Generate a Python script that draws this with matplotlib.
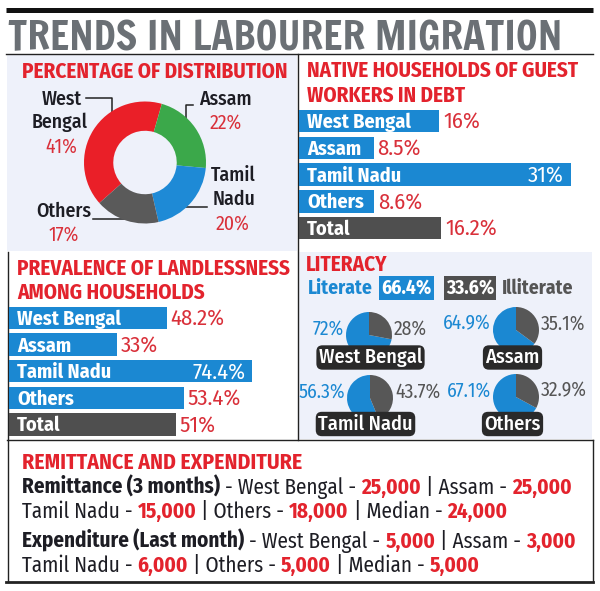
import matplotlib
matplotlib.use('Agg')
import matplotlib.pyplot as plt
from matplotlib import font_manager

# ---------------- data ----------------
dist_labels = ['West Bengal', 'Assam', 'Tamil Nadu', 'Others']
dist_values = [41, 22, 20, 17]

debt_labels = ['West Bengal', 'Assam', 'Tamil Nadu', 'Others', 'Total']
debt_values = [16, 8.5, 31, 8.6, 16.2]

land_labels = ['West Bengal', 'Assam', 'Tamil Nadu', 'Others', 'Total']
land_values = [48.2, 33, 74.4, 53.4, 51]

lit_total = [66.4, 33.6]
lit_states = ['West Bengal', 'Assam', 'Tamil Nadu', 'Others']
lit_literate = [72, 64.9, 56.3, 67.1]
lit_illiterate = [28, 35.1, 43.7, 32.9]

remit_places = ['West Bengal', 'Assam', 'Tamil Nadu', 'Others', 'Median']
remit_values = ['25,000', '25,000', '15,000', '18,000', '24,000']
exp_values = ['5,000', '3,000', '6,000', '5,000', '5,000']

# ---------------- style ----------------
names = {f.name for f in font_manager.fontManager.ttflist}


def pick(*cands):
    for c in cands:
        if c in names:
            return c
    return 'DejaVu Sans'


BODY = pick('Fira Sans Condensed', 'Roboto Condensed', 'Encode Sans Condensed')
TITLEF = pick('Francois One', 'Fjalla One', 'Oswald', 'Archivo Narrow')
plt.rcParams['font.family'] = [BODY, 'DejaVu Sans']

RED = '#e3232d'
RED2 = '#d9303a'
BLUE = '#1b88d2'
GRAY = '#4f4f4f'
DARK = '#1d1d24'
BG = '#eef1fa'
TITLE_GRAY = '#6b7075'

W, H, DPI = 600, 591, 100
fig = plt.figure(figsize=(W / DPI, H / DPI), dpi=DPI)
fig.patch.set_facecolor('white')
ax0 = fig.add_axes([0, 0, 1, 1])
ax0.set_xlim(0, W)
ax0.set_ylim(H, 0)
ax0.axis('off')
R = fig.canvas.get_renderer()


def px_axes(x0, y0, x1, y1):
    a = fig.add_axes([x0 / W, 1 - y1 / H, (x1 - x0) / W, (y1 - y0) / H])
    a.patch.set_alpha(0)
    return a


def width_of(s, size, **kw):
    t = ax0.text(0, 0, 'x' + s + 'x', fontsize=size, **kw)
    a = t.get_window_extent(R).width
    t.remove()
    t = ax0.text(0, 0, 'xx', fontsize=size, **kw)
    b = t.get_window_extent(R).width
    t.remove()
    return a - b


def fit_size(s, width, **kw):
    return 10 * width / width_of(s, 10, **kw)


def fit_text(x, y, s, width, ha='left', **kw):
    size = fit_size(s, width, **kw)
    return ax0.text(x, y, s, fontsize=size, ha=ha, va='baseline', **kw)


def seg_line(x, y, segs, target, size=None):
    if size is None:
        tot = sum(width_of(s, 10, **kw) for s, kw in segs)
        size = 10 * target / tot
    cx = x
    for s, kw in segs:
        lead = len(s) - len(s.lstrip(' '))
        off = width_of(' ' * lead, size, **kw) if lead else 0
        ax0.text(cx + off, y, s.strip(), fontsize=size, va='baseline', **kw)
        cx += width_of(s, size, **kw)
    return size


# ---------------- frame ----------------
ax0.add_patch(plt.Rectangle((7, 54), 290, 197, fc=BG, ec='none', zorder=0))
ax0.add_patch(plt.Rectangle((298, 252), 294, 187, fc=BG, ec='none', zorder=0))
ax0.plot([6, 593], [9.5, 9.5], color='#111111', lw=3.6, solid_capstyle='butt')
ax0.plot([6, 593], [53.5, 53.5], color='#222222', lw=1.0)
ax0.plot([297.5, 297.5], [53.5, 440], color='#222222', lw=1.0)
ax0.plot([7.5, 7.5], [252, 582], color='#222222', lw=1.0)
ax0.plot([7, 593], [440, 440], color='#222222', lw=1.0)
ax0.plot([592.5, 592.5], [440, 582], color='#222222', lw=1.0)
ax0.plot([6, 593], [582, 582], color='#222222', lw=2.0)

fit_text(8, 50, 'TRENDS IN LABOURER MIGRATION', 557, color=TITLE_GRAY, family=[TITLEF, 'DejaVu Sans'])

# ---------------- donut ----------------
fit_text(22, 78, 'PERCENTAGE OF DISTRIBUTION', 265, color=RED, fontweight='bold')
cx, cy, r = 145, 162.5, 61
axd = px_axes(cx - r, cy - r, cx + r, cy + r)
start = 74 + 360 * dist_values[0] / 100
axd.pie(dist_values, colors=['#ea1f28', '#3ba84a', '#1e8ad6', '#5a5a5a'],
        startangle=start, counterclock=False,
        wedgeprops=dict(width=0.48, edgecolor='none'))
axd.set_xlim(-1, 1)
axd.set_ylim(-1, 1)
axd.axis('off')

lsz = fit_size('Bengal', 56, fontweight='medium')
kwl = dict(fontsize=lsz, va='baseline', color=DARK, fontweight='medium')
kwp = dict(fontsize=lsz, va='baseline', color=RED2)
ax0.text(62, 105, 'West', ha='center', **kwl)
ax0.text(60, 128, 'Bengal', ha='center', **kwl)
ax0.text(61, 153, f'{dist_values[0]}%', ha='center', **kwp)
ax0.text(225, 105, 'Assam', ha='center', **kwl)
ax0.text(226, 129, f'{dist_values[1]}%', ha='center', **kwp)
ax0.text(233, 181, 'Tamil', ha='center', **kwl)
ax0.text(234, 205, 'Nadu', ha='center', **kwl)
ax0.text(233, 230, f'{dist_values[2]}%', ha='center', **kwp)
ax0.text(64, 217, 'Others', ha='center', **kwl)
ax0.text(64, 241, f'{dist_values[3]}%', ha='center', **kwp)
lk = dict(color='#222222', lw=1.1, zorder=5)
ax0.plot([86, 112, 112], [98, 98, 127], **lk)
ax0.plot([193, 186, 186], [105, 105, 142], **lk)
ax0.plot([207, 173], [207, 207], **lk)
ax0.plot([93, 153], [219, 219], **lk)

# ---------------- bar panels ----------------
lab_size = fit_size('West Bengal', 104, fontweight='bold')
val_size = fit_size('16.2%', 52)


def bar_panel(x0, y_first, spacing, scale, labels, values, inside_idx, bar_h):
    n = len(values)
    width_px = 290
    ax = px_axes(x0, y_first - spacing / 2, x0 + width_px, y_first + spacing * (n - 0.5))
    ax.set_xlim(0, width_px / scale)
    ax.set_ylim(n - 0.5, -0.5)
    ax.axis('off')
    cols = [BLUE] * (n - 1) + [GRAY]
    ax.barh(range(n), values, height=bar_h / spacing, color=cols, edgecolor='none')
    for i, (lab, v) in enumerate(zip(labels, values)):
        ax.annotate(lab, xy=(0, i), xytext=(8, -7), textcoords='offset pixels',
                    ha='left', va='baseline', color='white', fontweight='bold',
                    fontsize=lab_size)
        txt = f'{v:g}%'
        if i == inside_idx:
            ax.annotate(txt, xy=(v, i), xytext=(-7, -7), textcoords='offset pixels',
                        ha='right', va='baseline', color='white', fontsize=val_size)
        else:
            ax.annotate(txt, xy=(v, i), xytext=(4, -7), textcoords='offset pixels',
                        ha='left', va='baseline', color=RED2, fontsize=val_size)
    return ax


hsz = fit_size('NATIVE HOUSEHOLDS OF GUEST', 272, fontweight='bold')
ax0.text(307, 77, 'NATIVE HOUSEHOLDS OF GUEST', fontsize=hsz, color=RED, fontweight='bold', va='baseline')
ax0.text(307, 102, 'WORKERS IN DEBT', fontsize=hsz, color=RED, fontweight='bold', va='baseline')
bar_panel(299, 121, 26.75, 8.77, debt_labels, debt_values, 2, 22.5)

ax0.text(17, 275, 'PREVALENCE OF LANDLESSNESS', fontsize=hsz, color=RED, fontweight='bold', va='baseline')
ax0.text(17, 299, 'AMONG HOUSEHOLDS', fontsize=hsz, color=RED, fontweight='bold', va='baseline')
bar_panel(9, 318, 26.6, 3.27, land_labels, land_values, 2, 22.5)

# ---------------- literacy ----------------
ax0.text(306, 271, 'LITERACY', fontsize=hsz, color=RED, fontweight='bold', va='baseline')
legsz = fit_size('Literate', 65, fontweight='bold')
ax0.text(308, 294, 'Literate', fontsize=legsz, color=BLUE, fontweight='bold', va='baseline')
ax0.text(406.5, 294, f'{lit_total[0]}%', fontsize=legsz, color='white', fontweight='bold',
         va='baseline', ha='center',
         bbox=dict(boxstyle='square,pad=0.12', fc=BLUE, ec='none'))
ax0.text(470, 294, f'{lit_total[1]}%', fontsize=legsz, color='white', fontweight='bold',
         va='baseline', ha='center',
         bbox=dict(boxstyle='square,pad=0.12', fc=GRAY, ec='none'))
ax0.text(502, 294, 'Illiterate', fontsize=legsz, color='#555555', fontweight='bold', va='baseline')

pie_centers = [(369, 335), (516, 330), (370, 398), (516, 397)]
box_centers = [(370.5, 357.5), (512.5, 357.5), (365.5, 424), (512.5, 424)]
pie_r = 23
psz = fit_size('64.9%', 48)
nsz = fit_size('West Bengal', 104, fontweight='medium')
for k, st in enumerate(lit_states):
    px, py = pie_centers[k]
    ap = px_axes(px - pie_r, py - pie_r, px + pie_r, py + pie_r)
    ap.pie([lit_literate[k], lit_illiterate[k]], colors=[BLUE, '#575757'],
           startangle=90, counterclock=True, wedgeprops=dict(edgecolor='none'))
    ap.set_xlim(-1, 1)
    ap.set_ylim(-1, 1)
    ap.axis('off')
    ap.set_zorder(2)
    ax0.text(px - pie_r - 2, py - 6, f'{lit_literate[k]:g}%', fontsize=psz, color=BLUE,
             ha='right', va='center')
    ax0.text(px + pie_r + 2, py - 6, f'{lit_illiterate[k]:g}%', fontsize=psz, color='#555555',
             ha='left', va='center')

axl = px_axes(0, 0, W, H)
axl.set_xlim(0, W)
axl.set_ylim(H, 0)
axl.axis('off')
axl.set_zorder(3)
for k, st in enumerate(lit_states):
    bx, by = box_centers[k]
    axl.text(bx, by, st, fontsize=nsz, color='white', ha='center', va='center', fontweight='medium',
             bbox=dict(boxstyle='round,pad=0.12,rounding_size=0.3', fc='#2a2a2a', ec='none'))

# ---------------- remittance ----------------
fit_text(22, 469, 'REMITTANCE AND EXPENDITURE', 278, color=RED, fontweight='bold')
B = dict(color=DARK, fontweight='bold')
N = dict(color=DARK)
V = dict(color=RED, fontweight='bold')
rp, rv, ev = remit_places, remit_values, exp_values
l1 = [('Remittance (3 months)', B), (f' - {rp[0]} - ', N), (rv[0], V), (f' | {rp[1]} - ', N), (rv[1], V)]
size = seg_line(22, 494, l1, 550)
l2 = [(f'{rp[2]} - ', N), (rv[2], V), (f' | {rp[3]} - ', N), (rv[3], V), (f' | {rp[4]} - ', N), (rv[4], V)]
seg_line(22, 518, l2, None, size)
l3 = [('Expenditure (Last month)', B), (f' - {rp[0]} - ', N), (ev[0], V), (f' | {rp[1]} - ', N), (ev[1], V)]
seg_line(22, 548, l3, None, size)
l4 = [(f'{rp[2]} - ', N), (ev[2], V), (f' | {rp[3]} - ', N), (ev[3], V), (f' | {rp[4]} - ', N), (ev[4], V)]
seg_line(22, 572, l4, None, size)

fig.savefig('out.png', dpi=DPI, facecolor='white')
